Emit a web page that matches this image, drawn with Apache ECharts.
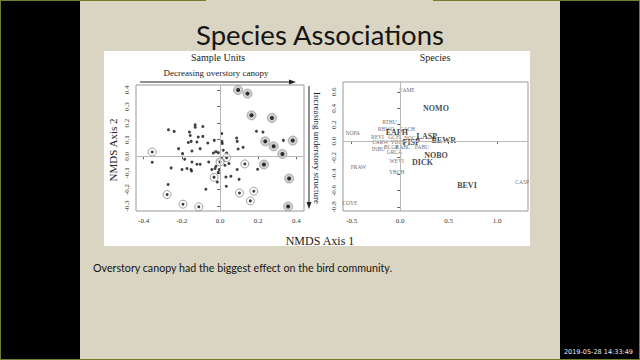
<!DOCTYPE html>
<html><head><meta charset="utf-8">
<script src="https://cdn.jsdelivr.net/npm/echarts@6/dist/echarts.min.js"></script>
<style>html,body{margin:0;padding:0;background:#000;}#c{width:640px;height:360px;}</style>
</head><body><div id="c"></div>
<script>
// ---- Sample Units (left ordination) ----
const plainUnits = [[-0.27,0.16],[-0.24,0.15],[-0.13,0.19],[-0.13,0.175],[-0.09,0.18],[-0.16,0.146],[-0.156,0.125],[-0.114,0.116],[-0.09,0.12],[-0.166,0.083],[-0.151,0.09],[-0.121,0.086],[-0.064,0.08],[-0.217,0.046],[-0.147,0.032],[-0.104,0.046],[-0.196,0.016],[-0.03,0.096],[0.009,0.137],[0.01,0.09],[0.012,0.077],[0.087,0.11],[0.09,0.09],[-0.022,0.028],[-0.035,0.02],[-0.009,0.022],[0.017,0.036],[0.035,0.02],[0.095,0.044],[0.121,0.054],[-0.355,-0.036],[-0.185,-0.018],[-0.147,-0.034],[-0.121,-0.048],[-0.104,-0.048],[-0.059,-0.034],[-0.256,-0.07],[-0.199,-0.08],[-0.173,-0.074],[-0.152,-0.08],[-0.149,-0.089],[-0.021,-0.06],[-0.01,-0.024],[0.009,-0.008],[0.021,-0.024],[0.026,-0.054],[0.047,-0.044],[-0.026,-0.074],[-0.043,-0.08],[-0.004,-0.08],[-0.035,-0.12],[-0.009,-0.096],[0.031,-0.125],[0.057,-0.12],[0.09,-0.08],[0.1,-0.139],[-0.014,-0.155],[0.033,-0.181],[-0.074,-0.199],[-0.272,-0.17],[0.197,-0.078],[0.191,0.151],[0.225,0.146],[0.332,0.096]];
const overstoryUnits = [[0.095,0.40],[0.144,0.378],[0.165,0.247],[0.272,0.231],[0.237,0.09],[0.281,0.06],[0.381,0.095],[0.327,0.014],[0.23,-0.05],[0.362,-0.134],[0.357,-0.303]];
const understoryUnits = [[-0.355,0.026],[-0.277,-0.231],[-0.194,-0.289],[-0.111,-0.305],[-0.031,-0.127],[0.0,-0.034],[0.035,-0.008],[0.13,-0.046],[0.102,-0.221],[0.177,-0.211],[0.159,-0.269]];
const unitsXTicks = [-0.4,-0.2,0,0.2,0.4];
const unitsYTicks = [-0.3,-0.2,-0.1,0,0.1,0.2,0.3,0.4];

// ---- Species (right ordination) ----
const speciesNames = ['EAME','NOMO','RTHU','NOPA','RBWO','CACH','EAPH','REVI','GCFL','NOCA','LASP','BEWR','CARW','YBCU','FISP','INBU','BLGR','EABL','PABU','GRCA','NOBO','WEVI','DICK','PRAW','YBCH','BEVI','CASP','COYE'];
const speciesX = [0.07,0.37,-0.11,-0.49,-0.145,0.075,-0.035,-0.235,-0.05,0.12,0.275,0.45,-0.205,-0.02,0.115,-0.225,-0.09,0.03,0.225,-0.06,0.37,-0.035,0.23,-0.43,-0.035,0.69,1.26,-0.52];
const speciesY = [0.62,0.40,0.235,0.105,0.143,0.143,0.105,0.052,0.045,0.033,0.052,0.012,-0.016,-0.008,-0.02,-0.09,-0.077,-0.077,-0.07,-0.13,-0.17,-0.245,-0.255,-0.31,-0.38,-0.54,-0.50,-0.75];
const boldSpecies = ['NOMO','EAPH','LASP','BEWR','FISP','NOBO','DICK','BEVI'];
const speciesXTicks = [-0.5,0,0.5,1.0];
const speciesYTicks = [-0.8,-0.6,-0.4,-0.2,0,0.2,0.4,0.6];

const serif = 'Liberation Serif';
const fmt = v => v.toFixed(1);

function axisCommon(ticks, rotate) {
  return {
    type: 'value',
    axisLine: {show: false},
    splitLine: {show: false},
    axisTick: {show: true, customValues: ticks, length: 3, lineStyle: {color: '#666'}},
    axisLabel: {customValues: ticks, formatter: fmt, fontSize: 7, fontFamily: serif, color: '#333', margin: 6, rotate: rotate || 0}
  };
}

const zeroLines = {
  silent: true, symbol: 'none', label: {show: false},
  lineStyle: {color: '#b8b8b8', width: 1, type: 'solid'},
  data: [{xAxis: 0}, {yAxis: 0}]
};

const speciesData = speciesNames.map((n, i) => {
  const bold = boldSpecies.indexOf(n) >= 0;
  return {
    name: n, value: [speciesX[i], speciesY[i]],
    label: bold ? {fontWeight: 'bold', fontSize: 8, color: '#111'} : {fontSize: 5.5, color: '#444'}
  };
});

const chart = echarts.init(document.getElementById('c'), null, {renderer: 'svg'});
chart.setOption({
  animation: false,
  backgroundColor: '#000',
  graphic: [
    {type: 'rect', z: -5, shape: {x: 80, y: 0, width: 480, height: 360}, style: {fill: '#d9d5c2'}},
    {type: 'rect', z: -5, shape: {x: 0, y: 0, width: 640, height: 360}, style: {fill: 'none', stroke: '#6f7f2c', lineWidth: 2}},
    {type: 'rect', z: -4, shape: {x: 206, y: 0, width: 227, height: 2}, style: {fill: '#d9d5c2'}},
    {type: 'rect', z: -4, shape: {x: 104, y: 51, width: 426, height: 195}, style: {fill: '#fff'}},
    {type: 'text', x: 320, y: 34, style: {text: 'Species Associations', font: '27.5px Lato', fill: '#151515', align: 'center', verticalAlign: 'middle'}},
    {type: 'text', x: 218, y: 57, style: {text: 'Sample Units', font: '10px "Liberation Serif"', fill: '#222', align: 'center', verticalAlign: 'middle'}},
    {type: 'text', x: 435, y: 57, style: {text: 'Species', font: '10px "Liberation Serif"', fill: '#222', align: 'center', verticalAlign: 'middle'}},
    {type: 'text', x: 216, y: 73, style: {text: 'Decreasing overstory canopy', font: '9px "Liberation Serif"', fill: '#222', align: 'center', verticalAlign: 'middle'}},
    {type: 'line', shape: {x1: 140, y1: 82, x2: 292, y2: 82}, style: {stroke: '#222', lineWidth: 1}},
    {type: 'polygon', shape: {points: [[296, 82], [289, 79.5], [289, 84.5]]}, style: {fill: '#222'}},
    {type: 'line', shape: {x1: 309, y1: 86, x2: 309, y2: 205}, style: {stroke: '#222', lineWidth: 1}},
    {type: 'polygon', shape: {points: [[309, 209], [306.5, 202], [311.5, 202]]}, style: {fill: '#222'}},
    {type: 'text', x: 317, y: 148, rotation: -Math.PI / 2, style: {text: 'Increasing understory structure', font: '9px "Liberation Serif"', fill: '#222', align: 'center', verticalAlign: 'middle'}},
    {type: 'text', x: 113, y: 150, rotation: Math.PI / 2, style: {text: 'NMDS Axis 2', font: '11px "Liberation Serif"', fill: '#222', align: 'center', verticalAlign: 'middle'}},
    {type: 'text', x: 320, y: 241, style: {text: 'NMDS Axis 1', font: '12px "Liberation Serif"', fill: '#222', align: 'center', verticalAlign: 'middle'}},
    {type: 'text', x: 93, y: 267, style: {text: 'Overstory canopy had the biggest effect on the bird community.', font: '10.7px Lato', fill: '#151515', align: 'left', verticalAlign: 'middle'}},
    {type: 'text', x: 633, y: 352, style: {text: '2019-05-28 14:33:49', font: '6.5px "DejaVu Sans"', fill: '#eee', align: 'right', verticalAlign: 'middle'}}
  ],
  grid: [
    {left: 136, top: 85, width: 168, height: 126, show: true, borderColor: '#999', borderWidth: 1, backgroundColor: 'transparent'},
    {left: 343, top: 82, width: 185, height: 129, show: true, borderColor: '#999', borderWidth: 1, backgroundColor: 'transparent'}
  ],
  xAxis: [
    Object.assign(axisCommon(unitsXTicks), {gridIndex: 0, min: -0.44, max: 0.44}),
    Object.assign(axisCommon(speciesXTicks), {gridIndex: 1, min: -0.59, max: 1.32})
  ],
  yAxis: [
    Object.assign(axisCommon(unitsYTicks, 90), {gridIndex: 0, min: -0.33, max: 0.43}),
    Object.assign(axisCommon(speciesYTicks, 90), {gridIndex: 1, min: -0.85, max: 0.72})
  ],
  series: [
    {type: 'scatter', xAxisIndex: 0, yAxisIndex: 0, data: plainUnits, symbol: 'circle', symbolSize: 3, itemStyle: {color: '#111'}, markLine: zeroLines, silent: true},
    {type: 'scatter', xAxisIndex: 0, yAxisIndex: 0, data: overstoryUnits, symbolSize: 9, itemStyle: {color: '#c4c4c4', borderColor: '#9a9a9a', borderWidth: 1}, silent: true},
    {type: 'scatter', xAxisIndex: 0, yAxisIndex: 0, data: overstoryUnits, symbolSize: 4, itemStyle: {color: '#000'}, silent: true},
    {type: 'scatter', xAxisIndex: 0, yAxisIndex: 0, data: understoryUnits, symbolSize: 8, itemStyle: {color: '#fff', borderColor: '#8a8a8a', borderWidth: 1}, silent: true},
    {type: 'scatter', xAxisIndex: 0, yAxisIndex: 0, data: understoryUnits, symbolSize: 3, itemStyle: {color: '#111'}, silent: true},
    {type: 'scatter', xAxisIndex: 1, yAxisIndex: 1, data: speciesData, symbolSize: 1, itemStyle: {color: 'rgba(0,0,0,0)'}, silent: true,
      label: {show: true, position: 'inside', formatter: '{b}', fontFamily: serif, color: '#444'},
      markLine: zeroLines}
  ]
});
</script>
</body></html>
